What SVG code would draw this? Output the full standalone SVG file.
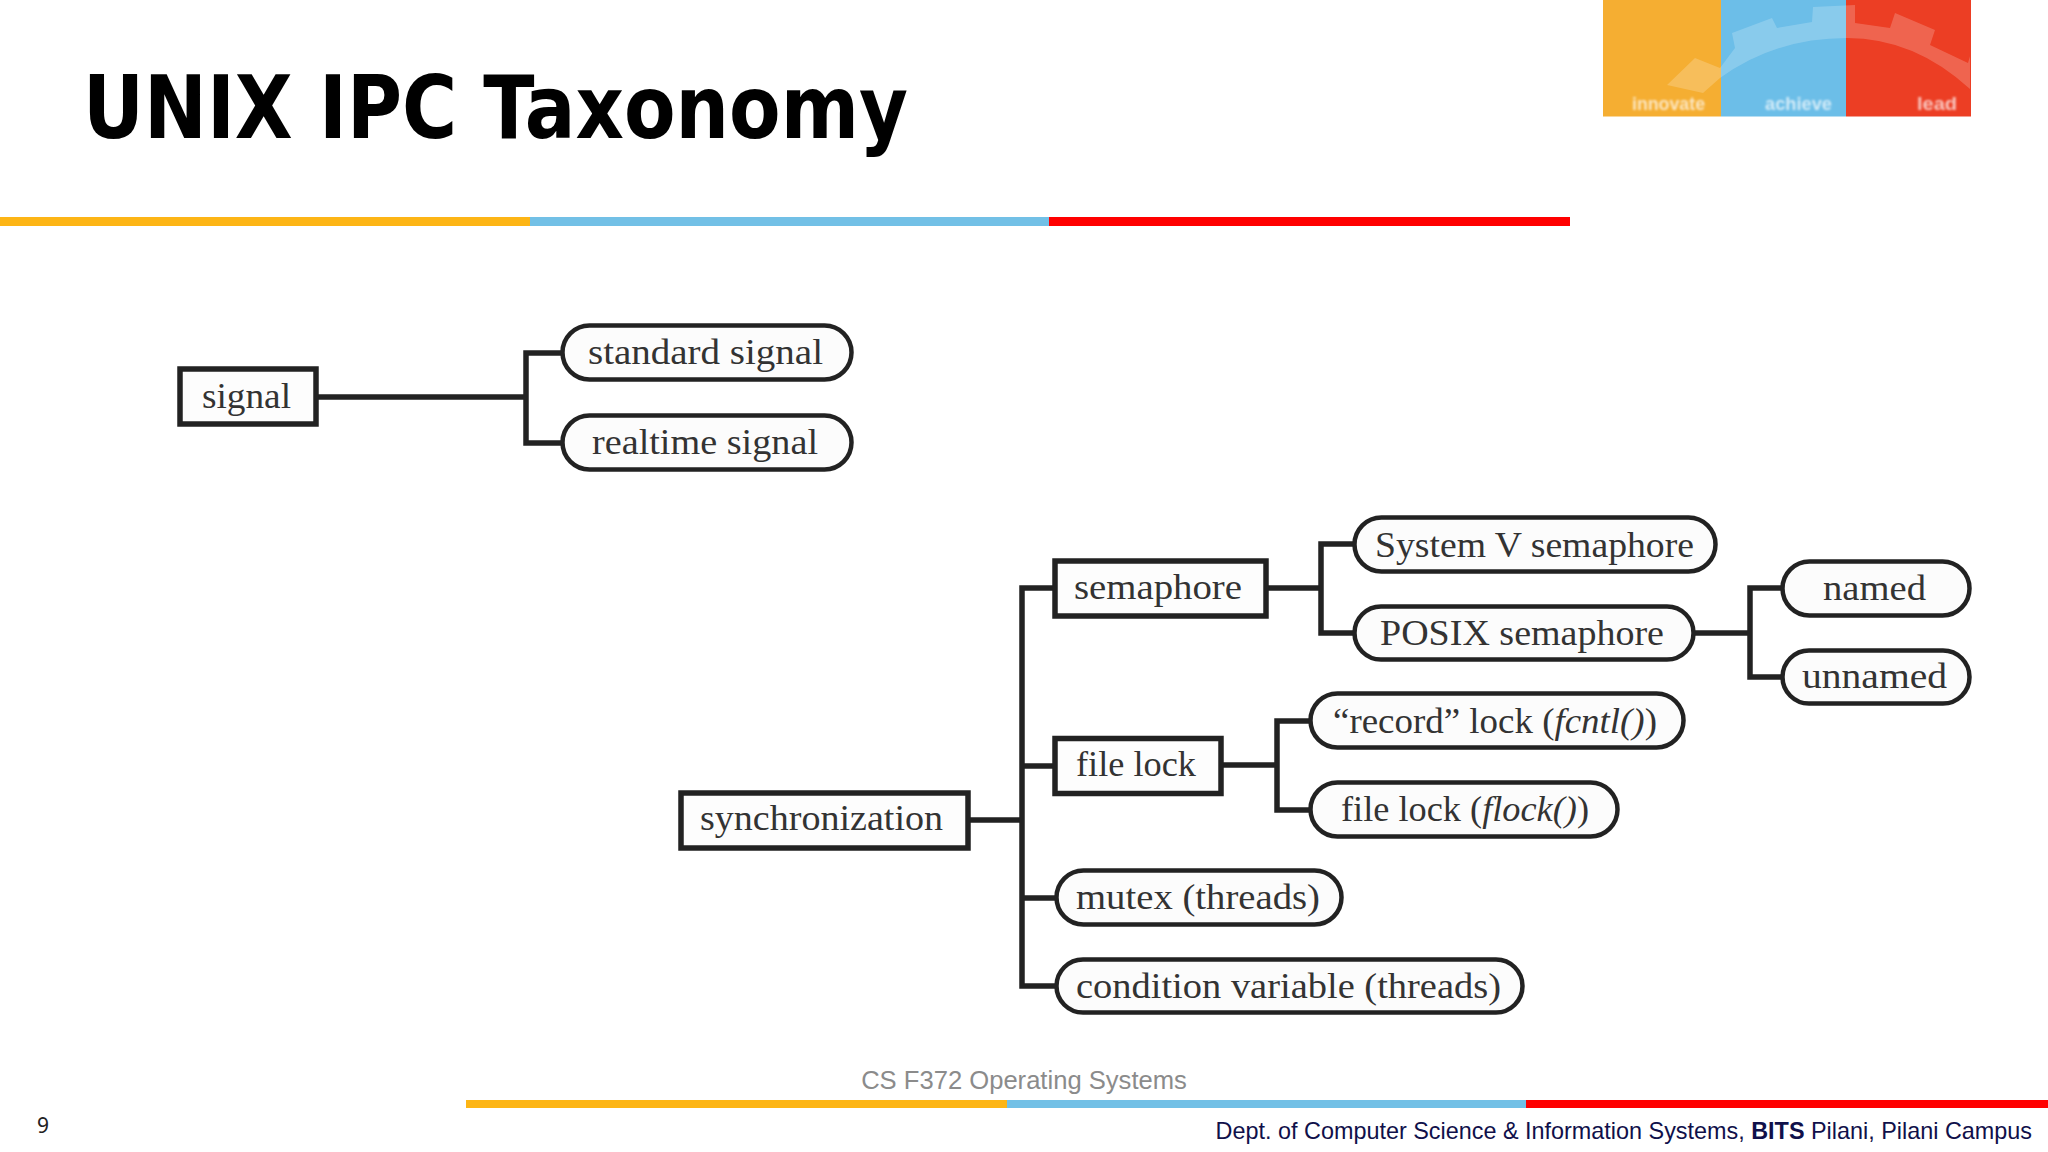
<svg xmlns="http://www.w3.org/2000/svg" width="2048" height="1152" viewBox="0 0 2048 1152">
<style>
.box{fill:#fdfdfd;stroke:#222;stroke-width:5.500}
.pill{fill:#fcfcfc;stroke:#222;stroke-width:4.500}
.lbl{font-family:"Liberation Serif",serif;font-size:35px;fill:#333}
.it{font-style:italic}
.conn{fill:none;stroke:#222;stroke-width:5.500}
.logot{font-family:"Liberation Sans",sans-serif;font-size:19px;font-weight:bold;fill:#fff;fill-opacity:.7;filter:url(#b)}
.foot{font-family:"Liberation Sans",sans-serif}
.title{font-family:"DejaVu Sans",sans-serif;font-weight:700;font-size:88px;fill:#000}
</style>
<defs>
<filter id="b" x="-10%" y="-30%" width="120%" height="160%"><feGaussianBlur stdDeviation="0.8"/></filter>
<clipPath id="lc"><rect x="1603" y="0" width="367" height="116"/></clipPath>
</defs>
<rect width="2048" height="1152" fill="#fff"/>
<text class="title" x="83" y="138" textLength="825" lengthAdjust="spacingAndGlyphs">UNIX IPC Taxonomy</text>
<g id="logo">
<rect x="1603" y="0" width="118" height="116.500" fill="#F5AE32"/>
<rect x="1721" y="0" width="125" height="116.500" fill="#6CBEE8"/>
<rect x="1846" y="0" width="125" height="116.500" fill="#EC3E24"/>
<path clip-path="url(#lc)" fill="#fff" fill-opacity=".2" d="M1667 85L1695 58L1720 68L1735 48L1732 33L1772 18L1777 28L1812 22L1813 7L1855 5L1855 23L1890 28L1895 13L1935 30L1930 45L1968 63L1971 53L1971 90Q1915 38 1847 38Q1775 38 1720 78L1703 93Z"/>
<text class="logot" x="1632" y="110" textLength="73" lengthAdjust="spacingAndGlyphs">innovate</text>
<text class="logot" x="1765" y="110" textLength="67" lengthAdjust="spacingAndGlyphs">achieve</text>
<text class="logot" x="1917" y="110" textLength="40" lengthAdjust="spacingAndGlyphs">lead</text>
</g>
<g id="top-rule">
<rect x="0" y="217" width="530" height="9" fill="#FDB515"/>
<rect x="530" y="217" width="519" height="9" fill="#72C0E6"/>
<rect x="1049" y="217" width="521" height="9" fill="#FF0000"/>
</g>
<g id="connectors">
<path class="conn" d="M317 397H526M561 353H526V443H561"/>
<path class="conn" d="M969 820H1022M1054 588H1022V986H1055M1022 766H1054M1022 898H1055"/>
<path class="conn" d="M1267 588H1321M1353 544H1321V633H1353"/>
<path class="conn" d="M1695 633H1750M1781 588H1750V677H1781"/>
<path class="conn" d="M1222 765H1277M1309 721H1277V810H1309"/>
</g>
<g id="signal"><rect class="box" x="180" y="369" width="136" height="55"/><text class="lbl" x="202" y="408" textLength="89" lengthAdjust="spacingAndGlyphs">signal</text></g>
<g id="standard-signal"><rect class="pill" x="562.500" y="325.500" width="289" height="54" rx="27"/><text class="lbl" x="588" y="364" textLength="235" lengthAdjust="spacingAndGlyphs">standard signal</text></g>
<g id="realtime-signal"><rect class="pill" x="562.500" y="415.500" width="289" height="54" rx="27"/><text class="lbl" x="592" y="454" textLength="226" lengthAdjust="spacingAndGlyphs">realtime signal</text></g>
<g id="synchronization"><rect class="box" x="681" y="793" width="287" height="55"/><text class="lbl" x="700" y="830" textLength="243" lengthAdjust="spacingAndGlyphs">synchronization</text></g>
<g id="semaphore"><rect class="box" x="1055" y="561" width="211" height="55"/><text class="lbl" x="1074" y="599" textLength="168" lengthAdjust="spacingAndGlyphs">semaphore</text></g>
<g id="system-v-semaphore"><rect class="pill" x="1354.500" y="517.500" width="361" height="54" rx="27"/><text class="lbl" x="1375" y="557" textLength="319" lengthAdjust="spacingAndGlyphs">System V semaphore</text></g>
<g id="posix-semaphore"><rect class="pill" x="1354.500" y="606.500" width="339" height="53" rx="26.500"/><text class="lbl" x="1380" y="645" textLength="284" lengthAdjust="spacingAndGlyphs">POSIX semaphore</text></g>
<g id="named"><rect class="pill" x="1782.500" y="561.500" width="187" height="54" rx="27"/><text class="lbl" x="1823" y="600" textLength="103" lengthAdjust="spacingAndGlyphs">named</text></g>
<g id="unnamed"><rect class="pill" x="1782.500" y="650.500" width="187" height="53" rx="26.500"/><text class="lbl" x="1802" y="688" textLength="145" lengthAdjust="spacingAndGlyphs">unnamed</text></g>
<g id="file-lock"><rect class="box" x="1055" y="738.500" width="166" height="55"/><text class="lbl" x="1076" y="776" textLength="120" lengthAdjust="spacingAndGlyphs">file lock</text></g>
<g id="record-lock"><rect class="pill" x="1310.500" y="693.500" width="373" height="54" rx="27"/><text class="lbl" x="1333" y="733" textLength="324" lengthAdjust="spacingAndGlyphs">“record” lock (<tspan class="it">fcntl()</tspan>)</text></g>
<g id="flock"><rect class="pill" x="1310.500" y="782.500" width="307" height="54" rx="27"/><text class="lbl" x="1341" y="821" textLength="248" lengthAdjust="spacingAndGlyphs">file lock (<tspan class="it">flock()</tspan>)</text></g>
<g id="mutex"><rect class="pill" x="1056.500" y="870.500" width="285" height="54" rx="27"/><text class="lbl" x="1076" y="909" textLength="244" lengthAdjust="spacingAndGlyphs">mutex (threads)</text></g>
<g id="condition-variable"><rect class="pill" x="1056.500" y="959.500" width="466" height="53" rx="26.500"/><text class="lbl" x="1076" y="998" textLength="425" lengthAdjust="spacingAndGlyphs">condition variable (threads)</text></g>
<g id="bottom-rule">
<rect x="466" y="1100" width="541" height="8" fill="#FDB515"/>
<rect x="1007" y="1100" width="519" height="8" fill="#72C0E6"/>
<rect x="1526" y="1100" width="522" height="8" fill="#FF0000"/>
</g>
<g id="footer" class="foot">
<text x="1024" y="1089" text-anchor="middle" font-size="25.600" fill="#8b8b8b">CS F372 Operating Systems</text>
<text x="37" y="1133" font-family="'Noto Sans',sans-serif" font-size="21" fill="#222">9</text>
<text x="2032" y="1138.500" text-anchor="end" font-size="23.400" fill="#10104a">Dept. of Computer Science &amp; Information Systems, <tspan font-weight="bold">BITS</tspan> Pilani, Pilani Campus</text>
</g>
</svg>
